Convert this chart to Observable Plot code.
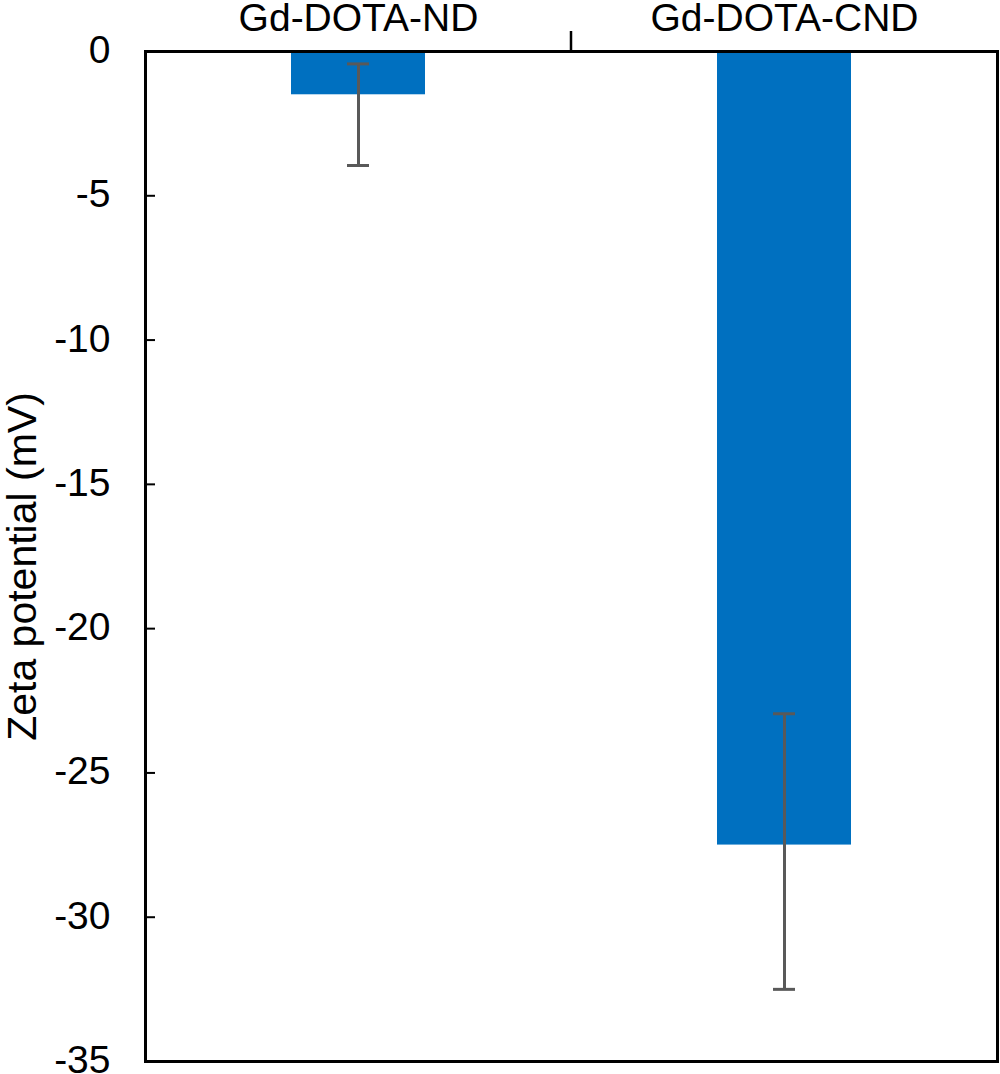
<!DOCTYPE html>
<html>
<head>
<meta charset="utf-8">
<script src="https://cdn.jsdelivr.net/npm/d3@7"></script>
<script src="https://cdn.jsdelivr.net/npm/@observablehq/plot@0.6"></script>
<style>
  html, body { margin: 0; padding: 0; background: #fff; }
  #chart svg { display: block; }
</style>
</head>
<body>
<div id="chart"></div>
<script>
const categories = ["Gd-DOTA-ND", "Gd-DOTA-CND"];
const means = [-1.5, -27.5];
const errLow = [-3.95, -32.5];
const errHigh = [-0.43, -22.95];
const yTicks = [0, -5, -10, -15, -20, -25, -30, -35];
const yLabel = "Zeta potential (mV)";

const data = categories.map((c, i) => ({cat: c, v: means[i], lo: errLow[i], hi: errHigh[i]}));

const font = "'Liberation Sans', Arial, Helvetica, sans-serif";

// tick between the two categories on the top axis (Excel-style category separator)
function separatorTick(index, scales, values, dims) {
  const x = scales.x;
  const step = x && x.step ? x.step() : 0;
  const bw = x && x.bandwidth ? x.bandwidth() : 0;
  const pos = x(categories[1]) - (step - bw) / 2;
  const g = d3.create("svg:g");
  g.append("line")
    .attr("x1", pos).attr("x2", pos)
    .attr("y1", dims.marginTop - 20).attr("y2", dims.marginTop)
    .attr("stroke", "black").attr("stroke-width", 2.5);
  return g.node();
}

const chart = Plot.plot({
  width: 1000,
  height: 1074,
  marginLeft: 145,
  marginRight: 3,
  marginTop: 51,
  marginBottom: 13,
  style: {fontFamily: font, background: "white", color: "black"},
  x: {domain: categories, paddingInner: 0.685, paddingOuter: 0.3425, axis: null},
  y: {domain: [-35, 0], axis: null},
  marks: [
    Plot.barY(data, {x: "cat", y: "v", fill: "#0070C0"}),
    Plot.ruleX(data, {x: "cat", y1: "lo", y2: "hi", stroke: "#595959", strokeWidth: 3}),
    Plot.tickY(data, {x: "cat", y: "lo", stroke: "#595959", strokeWidth: 3, inset: 56}),
    Plot.tickY(data, {x: "cat", y: "hi", stroke: "#595959", strokeWidth: 3, inset: 56}),
    Plot.axisX({anchor: "top", tickSize: 0, tickPadding: 21, fontSize: 39, label: null, fill: "black"}),
    Plot.axisY(yTicks, {anchor: "left", tickSize: 10, dx: 10, strokeWidth: 2, stroke: "black", tickFormat: () => "", label: null}),
    Plot.axisY(yTicks, {anchor: "left", tickSize: 0, tickPadding: 35, dy: -1, fontSize: 39, tickFormat: d => String(d), label: null, fill: "black"}),
    Plot.text([yLabel], {frameAnchor: "left", textAnchor: "middle", rotate: -90, dx: -123, dy: 10, fontSize: 41, fill: "black"}),
    Plot.frame({stroke: "black", strokeWidth: 3}),
    separatorTick
  ]
});

document.getElementById("chart").append(chart);
</script>
</body>
</html>
